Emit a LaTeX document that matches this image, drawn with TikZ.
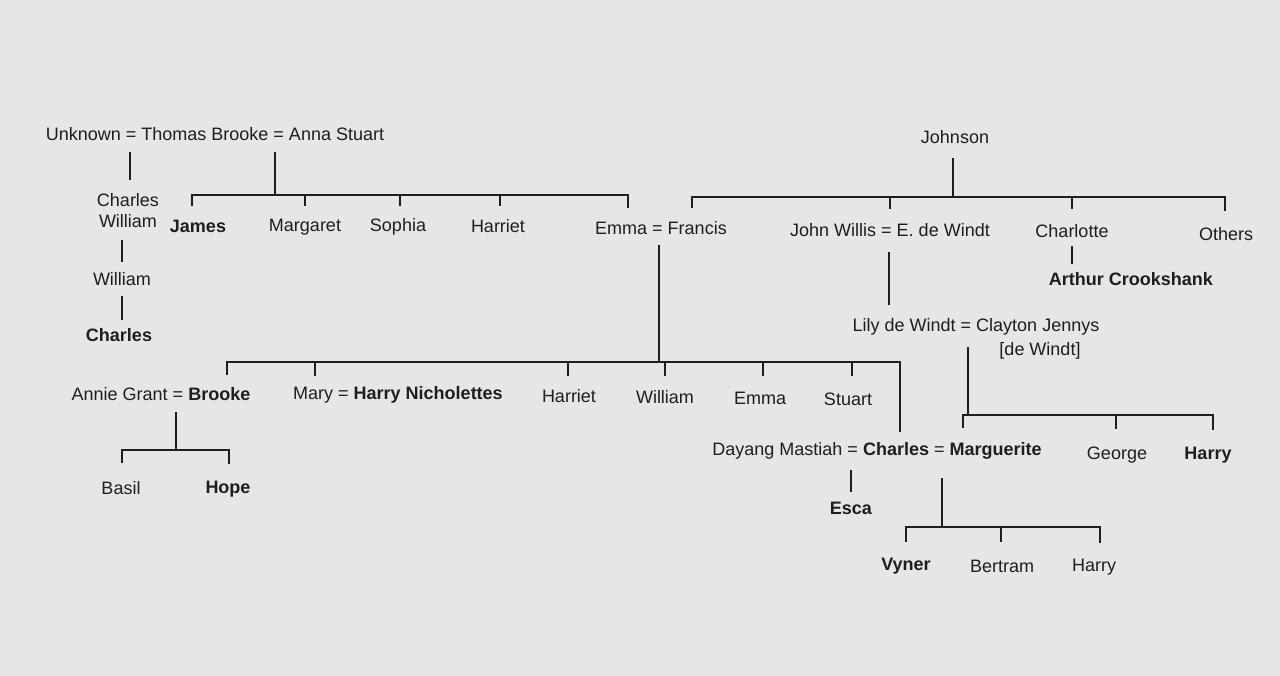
\documentclass[tikz,border=0pt]{standalone}
\usepackage{fontspec}
\setmainfont{Liberation Sans}
\definecolor{bg}{HTML}{E6E6E4}
\definecolor{ink}{HTML}{1E1E1E}
\begin{document}
\begin{tikzpicture}[x=1pt,y=-1pt,
  nm/.style={inner sep=0pt,text=ink,font=\fontsize{18}{21}\selectfont,align=center},
  ln/.style={draw=ink,line width=1.6pt}]
\fill[bg] (0,0) rectangle (1280,676);
\useasboundingbox (0,0) rectangle (1280,676);
% top left
\node[nm] (tb) at (215,134) {Unknown = Thomas Brooke = Anna Stuart};
\coordinate (tbA) at (130,152); \coordinate (tbB) at (130,180);
\draw[ln] (tbA) -- (tbB);
\node[nm] (cw) at (128,211) {Charles\\William};
\coordinate (cw1) at (122,240); \coordinate (cw2) at (122,262);
\draw[ln] (cw1) -- (cw2);
\node[nm] (wi) at (122,279) {William};
\coordinate (wi1) at (122,296); \coordinate (wi2) at (122,320);
\draw[ln] (wi1) -- (wi2);
\node[nm] (ch) at (119,335) {\textbf{Charles}};
\coordinate (tbC) at (275,152); \coordinate (tbD) at (275,195);
\draw[ln] (tbC) -- (tbD);
\draw[ln] (192,206) -- (192,195) -- (628,195) -- (628,208);
\foreach \x in {305,400,500} \draw[ln] (\x,195) -- (\x,206);
\node[nm] (ja) at (198,226) {\textbf{James}};
\node[nm] (ma) at (305,227) {Margaret};
\node[nm] (so) at (398,227) {Sophia};
\node[nm] (ha) at (498,226) {Harriet};
\node[nm] (ef) at (661,228) {Emma = Francis};
% Johnson
\node[nm] (jo) at (955,137) {Johnson};
\coordinate (jo1) at (953,158); \coordinate (jo2) at (953,197);
\draw[ln] (jo1) -- (jo2);
\draw[ln] (692,208) -- (692,197) -- (1225,197) -- (1225,211);
\foreach \x in {890,1072} \draw[ln] (\x,197) -- (\x,209);
\node[nm] (jw) at (890,230) {John Willis = E. de Windt};
\node[nm] (cl) at (1072,231) {Charlotte};
\node[nm] (ot) at (1226,234) {Others};
\coordinate (cl1) at (1072,246); \coordinate (cl2) at (1072,264);
\draw[ln] (cl1) -- (cl2);
\node[nm] (ac) at (1131,279) {\textbf{Arthur Crookshank}};
% Emma = Francis children
\coordinate (ef1) at (659,245); \coordinate (ef2) at (659,362);
\draw[ln] (ef1) -- (ef2);
\draw[ln] (227,375) -- (227,362) -- (900,362) -- (900,432);
\foreach \x in {315,568,665,763,852} \draw[ln] (\x,362) -- (\x,376);
\node[nm] (ab) at (161,394) {Annie Grant = \textbf{Brooke}};
\node[nm] (mh) at (398,395) {Mary = \textbf{Harry Nicholettes}};
\node[nm] (h2) at (569,396) {Harriet};
\node[nm] (w2) at (665,397) {William};
\node[nm] (e2) at (760,398) {Emma};
\node[nm] (st) at (848,399) {Stuart};
% de Windt
\coordinate (jw1) at (889,252); \coordinate (jw2) at (889,305);
\draw[ln] (jw1) -- (jw2);
\node[nm] (ld) at (976,327) {Lily de Windt = Clayton Jennys};
\node[nm] (dw) at (1040,351) {[de Windt]};
\coordinate (ld1) at (968,347); \coordinate (ld2) at (968,415);
\draw[ln] (ld1) -- (ld2);
\draw[ln] (963,428) -- (963,415) -- (1213,415) -- (1213,430);
\draw[ln] (1116,415) -- (1116,429);
\node[nm] (ge) at (1117,455) {George};
\node[nm] (hy) at (1208,455) {\textbf{Harry}};
% Brooke children
\coordinate (br1) at (176,412); \coordinate (br2) at (176,450);
\draw[ln] (br1) -- (br2);
\draw[ln] (122,463) -- (122,450) -- (229,450) -- (229,464);
\node[nm] (ba) at (121,488) {Basil};
\node[nm] (ho) at (228,489) {\textbf{Hope}};
% Charles
\node[nm] (dc) at (877,451) {Dayang Mastiah = \textbf{Charles} = \textbf{Marguerite}};
\coordinate (dc1) at (851,470); \coordinate (dc2) at (851,492);
\draw[ln] (dc1) -- (dc2);
\node[nm] (es) at (851,508) {\textbf{Esca}};
\coordinate (dc3) at (942,478); \coordinate (dc4) at (942,527);
\draw[ln] (dc3) -- (dc4);
\draw[ln] (906,542) -- (906,527) -- (1100,527) -- (1100,543);
\draw[ln] (1001,527) -- (1001,542);
\node[nm] (vy) at (906,566) {\textbf{Vyner}};
\node[nm] (be) at (1002,566) {Bertram};
\node[nm] (h3) at (1094,567) {Harry};
\end{tikzpicture}
\end{document}
